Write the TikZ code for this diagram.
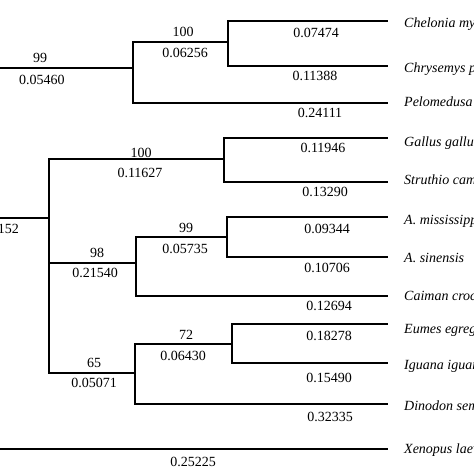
\documentclass[tikz,border=0pt]{standalone}
\usepackage{fontspec}
\setmainfont{Liberation Serif}
\usetikzlibrary{positioning}

\begin{document}
\begin{tikzpicture}[
  x=1pt, y=-1pt,
  font=\fontsize{14}{16}\selectfont,
  branch/.style={line width=1.7pt, black},
  boot/.style={inner sep=0pt},
  blen/.style={inner sep=0pt},
  taxon/.style={anchor=base west, inner sep=0pt,
                font=\fontsize{14}{16}\selectfont\itshape}
]
\useasboundingbox (0,0) rectangle (474,474);

%% Internal nodes (x = depth, y = row)
\coordinate (root)  at (-54,258);
\coordinate (turt)  at (133,68);
\coordinate (cmcp)  at (228,42);
\coordinate (core)  at (49,218);
\coordinate (aves)  at (224,159);
\coordinate (arch)  at (136,263);
\coordinate (allig) at (227,237);
\coordinate (squam) at (135,373);
\coordinate (eumig) at (232,344);

%% Tips (branch ends)
\coordinate (chelonia)  at (388,21);
\coordinate (chrysemys) at (388,66);
\coordinate (pelomed)   at (388,103);
\coordinate (gallus)    at (388,138);
\coordinate (struthio)  at (388,182);
\coordinate (amiss)     at (388,217);
\coordinate (asin)      at (388,257);
\coordinate (caiman)    at (388,296);
\coordinate (eumes)     at (388,324);
\coordinate (iguana)    at (388,363);
\coordinate (dinodon)   at (388,404);
\coordinate (xenopus)   at (388,449);

%% Taxon names (baselines)
\node[taxon] (tChel) at (404,27)  {Chelonia mydas};
\node[taxon] (tChry) at (404,72)  {Chrysemys picta};
\node[taxon] (tPelo) at (404,106) {Pelomedusa subrufa};
\node[taxon] (tGall) at (404,146) {Gallus gallus};
\node[taxon] (tStru) at (404,184) {Struthio camelus};
\node[taxon] (tAmis) at (404,224) {A. mississippiensis};
\node[taxon] (tAsin) at (404,262) {A. sinensis};
\node[taxon] (tCaim) at (404,300) {Caiman crocodilus};
\node[taxon] (tEume) at (404,333) {Eumes egregius};
\node[taxon] (tIgua) at (404,369) {Iguana iguana};
\node[taxon] (tDino) at (404,410) {Dinodon semicarinatum};
\node[taxon] (tXeno) at (404,453) {Xenopus laevis};

%% Branches
\draw[branch] (root)  |- (turt);
\draw[branch] (turt)  |- (cmcp);
\draw[branch] (cmcp)  |- (chelonia);
\draw[branch] (cmcp)  |- (chrysemys);
\draw[branch] (turt)  |- (pelomed);
\draw[branch] (root)  |- (core);
\draw[branch] (core)  |- (aves);
\draw[branch] (aves)  |- (gallus);
\draw[branch] (aves)  |- (struthio);
\draw[branch] (core)  |- (arch);
\draw[branch] (arch)  |- (allig);
\draw[branch] (allig) |- (amiss);
\draw[branch] (allig) |- (asin);
\draw[branch] (arch)  |- (caiman);
\draw[branch] (core)  |- (squam);
\draw[branch] (squam) |- (eumig);
\draw[branch] (eumig) |- (eumes);
\draw[branch] (eumig) |- (iguana);
\draw[branch] (squam) |- (dinodon);
\draw[branch] (root)  |- (xenopus);

%% Bootstrap values
\node[boot] (bTurt)  at (40,58)   {99};
\node[boot] (bCmcp)  at (183,32)  {100};
\node[boot] (bAves)  at (141,153) {100};
\node[boot] (bArch)  at (97,253)  {98};
\node[boot] (bAllig) at (186,228) {99};
\node[boot] (bSquam) at (94,363)  {65};
\node[boot] (bEumig) at (186,335) {72};

%% Branch lengths
\node[blen] (lTurt)  at (42,80)   {0.05460};
\node[blen] (lCmcp)  at (185,53)  {0.06256};
\node[blen] (lChel)  at (316,33)  {0.07474};
\node[blen] (lChry)  at (315,76)  {0.11388};
\node[blen] (lPelo)  at (320,113) {0.24111};
\node[blen] (lGall)  at (323,148) {0.11946};
\node[blen] (lAves)  at (140,173) {0.11627};
\node[blen] (lStru)  at (325,192) {0.13290};
\node[blen] (lCore)  at (-4,229)  {0.02152};
\node[blen] (lAmis)  at (327,229) {0.09344};
\node[blen] (lAllig) at (185,249) {0.05735};
\node[blen] (lAsin)  at (327,268) {0.10706};
\node[blen] (lArch)  at (95,273)  {0.21540};
\node[blen] (lCaim)  at (329,306) {0.12694};
\node[blen] (lEume)  at (329,336) {0.18278};
\node[blen] (lEumig) at (183,356) {0.06430};
\node[blen] (lIgua)  at (329,378) {0.15490};
\node[blen] (lSquam) at (94,383)  {0.05071};
\node[blen] (lDino)  at (330,417) {0.32335};
\node[blen] (lXeno)  at (193,462) {0.25225};

\end{tikzpicture}
\end{document}
